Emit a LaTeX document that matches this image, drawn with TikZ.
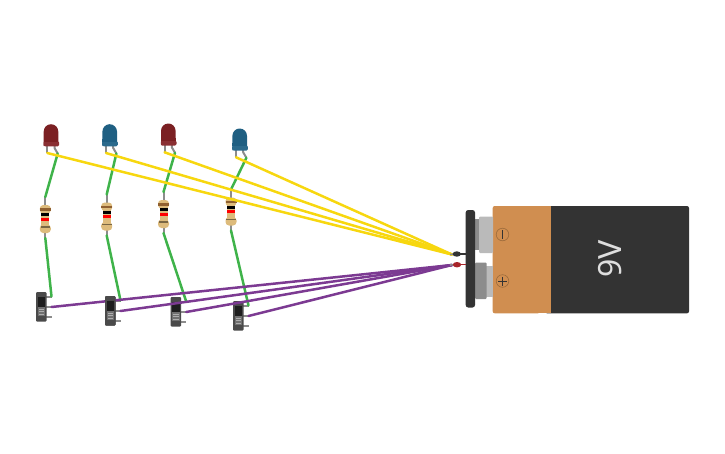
\documentclass[tikz,border=0pt]{standalone}
\usepackage{fontspec}
\setmainfont{Noto Sans}
\definecolor{ledred}{HTML}{7B2023}
\definecolor{ledredb}{HTML}{8A2F33}
\definecolor{ledblue}{HTML}{1F5F82}
\definecolor{ledblueb}{HTML}{2B6A8C}
\definecolor{wgreen}{HTML}{3FB34A}
\definecolor{wyellow}{HTML}{F7D70F}
\definecolor{wpurple}{HTML}{7C3A92}
\definecolor{leadgrey}{HTML}{8C8C8C}
\definecolor{resbody}{HTML}{DDBB7C}
\definecolor{swbody}{HTML}{4A4A4A}
\definecolor{swdark}{HTML}{1E1E1E}
\definecolor{batdark}{HTML}{333333}
\definecolor{batorange}{HTML}{D08E50}
\definecolor{clipred}{HTML}{A8242A}
\tikzset{
  wire/.style={line width=2.5pt,line cap=round},
  greenwire/.style={wire,wgreen},
  yellowwire/.style={wire,wyellow},
  purplewire/.style={wire,wpurple},
  leadline/.style={line width=2pt,leadgrey},
  pics/ledpart/.style n args={2}{code={
    \draw[leadline] (-3.7,20) -- (-3.7,29) coordinate (-a);
    \draw[leadline] (3.5,20) -- (3.5,24) -- (6.7,29.5) coordinate (-k);
    \fill[#1] (-7.3,22) -- (-7.3,7.5) arc[start angle=180,end angle=360,radius=7.3] -- (7.3,18) -- cycle;
    \fill[#2,rounded corners=1.5pt] (-7.5,17) rectangle (8.2,22.3);
    \fill[#1] (-7.3,15) rectangle (7.3,18);
  }},
  pics/respart/.style={code={
    \draw[leadline] (0,-8) -- (0,33) ;
    \coordinate (-t) at (0,-8);
    \coordinate (-b) at (0,33);
    \fill[resbody] (-4,3) rectangle (4,25);
    \fill[resbody,rounded corners=3.5pt] (-5.5,0) rectangle (5.5,8.5);
    \fill[resbody,rounded corners=3.5pt] (-5.5,19.5) rectangle (5.5,28);
    \fill[brown!75!black] (-5.5,3) rectangle (5.5,5.5);
    \fill[black] (-4,8) rectangle (4,11);
    \fill[red] (-4,12.5) rectangle (4,15.5);
    \fill[black!45!resbody] (-4.8,21.3) rectangle (4.8,22.7);
  }},
  pics/swpart/.style={code={
    \draw[leadline] (0,4.5) -- (15.5,4.5) coordinate (-p1);
    \draw[leadline] (0,15) -- (15.5,15) coordinate (-p2);
    \draw[leadline] (0,25) -- (15.5,25);
    \fill[swbody,rounded corners=1pt] (0,0) rectangle (10.5,29.5);
    \fill[swdark] (1.7,4.5) rectangle (8.8,22.5);
    \fill[leadgrey!80!black] (1.7,15) rectangle (8.8,23.5);
    \foreach \yy in {16.5,19,21.5} \fill[leadgrey!70!white] (2.7,\yy) rectangle (7.8,\yy+1.1);
  }},
}
\begin{document}
\begin{tikzpicture}[x=1pt,y=-1pt]
\useasboundingbox (0,0) rectangle (725,453);
\coordinate (negend) at (452,254.5);
\coordinate (posend) at (452,265);

\pic (sw1) at (36,292) {swpart};
\pic (sw2) at (105,296) {swpart};
\pic (sw3) at (170.7,297) {swpart};
\pic (sw4) at (233,301) {swpart};

\pic (r1) at (45.3,205) {respart};
\pic (r2) at (106.7,202.5) {respart};
\pic (r3) at (163.5,200) {respart};
\pic (r4) at (231,197.5) {respart};

\pic (l1) at (51,124) {ledpart={ledred}{ledredb}};
\pic (l2) at (109.7,124) {ledpart={ledblue}{ledblueb}};
\pic (l3) at (168.3,123.3) {ledpart={ledred}{ledredb}};
\pic (l4) at (239.7,128.3) {ledpart={ledblue}{ledblueb}};

% green wires
\draw[greenwire] (l1-k) -- (r1-t);
\draw[greenwire] (l2-k) -- (r2-t);
\draw[greenwire] (l3-k) -- (r3-t);
\draw[greenwire] (l4-k) -- (r4-t);
\draw[greenwire] (r1-b) -- (sw1-p1);
\draw[greenwire] (r2-b) -- (sw2-p1);
\draw[greenwire] (r3-b) -- (sw3-p1);
\draw[greenwire] (r4-b) -- (sw4-p1);

% yellow and purple wires
\draw[yellowwire] (l1-a) -- (negend);
\draw[yellowwire] (l2-a) -- (negend);
\draw[yellowwire] (l3-a) -- (negend);
\draw[yellowwire] (l4-a) -- (negend);
\draw[purplewire] (sw1-p2) -- (posend);
\draw[purplewire] (sw2-p2) -- (posend);
\draw[purplewire] (sw3-p2) -- (posend);
\draw[purplewire] (sw4-p2) -- (posend);

% switch body again over the wire passing behind it
\fill[swbody,rounded corners=1pt] (105,296) rectangle (115.5,325.5);
\fill[swdark] (106.7,300.5) rectangle (113.8,318.5);
\fill[leadgrey!80!black] (106.7,311) rectangle (113.8,319.5);
\foreach \yy in {312.5,315,317.5} \fill[leadgrey!70!white] (107.7,\yy) rectangle (112.8,\yy+1.1);

% battery
\fill[batdark,rounded corners=2pt] (545,206) rectangle (689,313.3);
\fill[batorange,rounded corners=2pt] (492.7,206) rectangle (540,313.3);
\fill[batorange] (520,206) rectangle (551,313.3);
\fill[leadgrey] (475,219) rectangle (479.5,250);
\fill[black!27,rounded corners=1pt] (479,216.5) rectangle (493,253);
\fill[black!27] (486,266) rectangle (493,297);
\fill[leadgrey,rounded corners=1pt] (475,262.7) rectangle (486.7,299);
\fill[batdark,rounded corners=2.5pt] (465.7,210) rectangle (475,307.5);
\draw[batorange!75!black,line width=.6pt] (502.5,234.5) circle[radius=6.3];
\draw[batorange!75!black,line width=.6pt] (502.5,281) circle[radius=6.3];
\draw[batdark,line width=.9pt] (502.5,230) -- (502.5,239);
\draw[batdark,line width=.9pt] (502.5,276.5) -- (502.5,285.5) (498,281) -- (507,281);
\node[rotate=90,text=black!13,font=\fontsize{32}{32}\selectfont,inner sep=0pt] (volt) at (610,259) {9V};

% battery clip leads
\draw[line width=1.3pt,batdark] (465.7,254) -- (454,254);
\draw[line width=1.3pt,clipred] (465.7,264.5) -- (454,264.5);
\draw[line width=1.6pt,leadgrey] (450,254.5) -- (454,254.2);
\draw[line width=1.6pt,leadgrey] (450,265) -- (454,264.7);
\fill[batdark] (456.8,254) ellipse[x radius=4.2,y radius=2.7];
\fill[clipred] (457,264.7) ellipse[x radius=4.2,y radius=2.7];
\end{tikzpicture}
\end{document}
